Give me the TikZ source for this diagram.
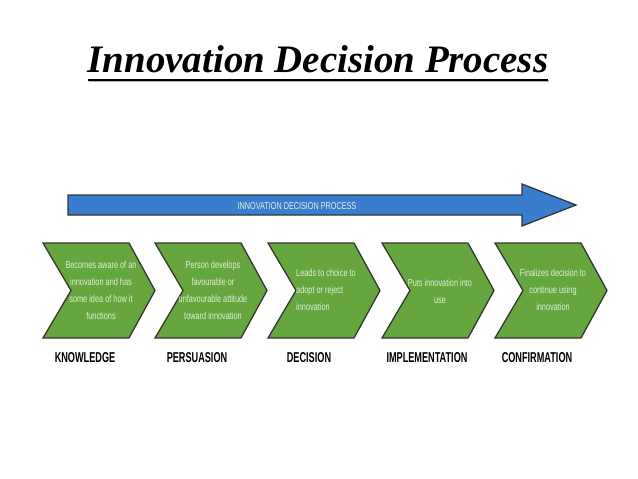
\documentclass[tikz,border=0pt]{standalone}
\usepackage{fontspec}
\setmainfont{Liberation Serif}
\setsansfont{Liberation Sans}
\newfontfamily\narrowfont[FakeStretch=0.72]{Liberation Sans}
\newfontfamily\slimfont[FakeStretch=0.64]{Liberation Sans}
\usepackage{xcolor}
\usetikzlibrary{calc}
\definecolor{procblue}{RGB}{58,125,206}
\definecolor{stepgreen}{RGB}{102,166,62}
\definecolor{steptext}{RGB}{222,238,214}
\definecolor{edgegray}{RGB}{50,55,50}
% one green chevron: #1 = left x, #2 = node name
\newcommand{\chevron}[2]{%
  \draw[chev] (#1,243) -- ++(86,0) -- ++(26,47.5) -- ++(-26,47.5)
    -- ++(-86,0) -- ++(28,-47.5) -- cycle;
  \coordinate (#2) at (#1+58,290);}

\begin{document}
\begin{tikzpicture}[x=0.03cm, y=-0.03cm,
  chev/.style={draw=edgegray, line width=1.1pt, fill=stepgreen},
  desc/.style={font=\narrowfont\fontsize{8.7}{14.5}\selectfont,
    text=steptext, align=center, inner sep=0pt},
  stage/.style={font=\slimfont\bfseries\fontsize{12.2}{13}\selectfont,
    inner sep=0pt, anchor=base}
]
  \useasboundingbox (0,0) rectangle (638,479);

  % title
  \node[font=\bfseries\itshape\fontsize{33.2}{38}\selectfont, anchor=base,
    inner sep=0pt] (title) at (318,72) {Innovation Decision Process};
  \draw[gray!60, line width=2.5pt] ($(title.base west)+(1,9)$)
    -- ($(title.base east)+(1,9)$);
  \draw[line width=2.4pt] ($(title.base west)+(0,8)$)
    -- ($(title.base east)+(0,8)$);

  % process arrow
  \draw[draw=edgegray, line width=1.1pt, fill=procblue]
    (68,195) -- (522,195) -- (522,184) -- (576,205) -- (522,226)
    -- (522,215) -- (68,215) -- cycle;
  \node[font=\narrowfont\fontsize{8.6}{9}\selectfont, text=steptext!80!white]
    (proc) at (297,206) {INNOVATION DECISION PROCESS};

  % stages
  \chevron{43}{c1}
  \chevron{155}{c2}
  \chevron{268}{c3}
  \chevron{382}{c4}
  \chevron{495}{c5}

  \node[desc] (t1) at (c1) {Becomes aware of an\\innovation and has\\
    some idea of how it\\functions};
  \node[desc] (t2) at (c2) {Person develops\\favourable or\\
    unfavourable attitude\\toward innovation};
  \node[desc, align=left] (t3) at (c3) {Leads to choice to\\
    adopt or reject\\innovation};
  \node[desc] (t4) at ($(c4)+(0,1)$) {Puts innovation into\\use};
  \node[desc] (t5) at (c5) {Finalizes decision to\\continue using\\
    innovation};

  \node[stage] (knowledge) at (85,362) {KNOWLEDGE};
  \node[stage] (persuasion) at (197,362) {PERSUASION};
  \node[stage] (decision) at (309,362) {DECISION};
  \node[stage] (implementation) at (427,362) {IMPLEMENTATION};
  \node[stage] (confirmation) at (537,362) {CONFIRMATION};
\end{tikzpicture}
\end{document}
